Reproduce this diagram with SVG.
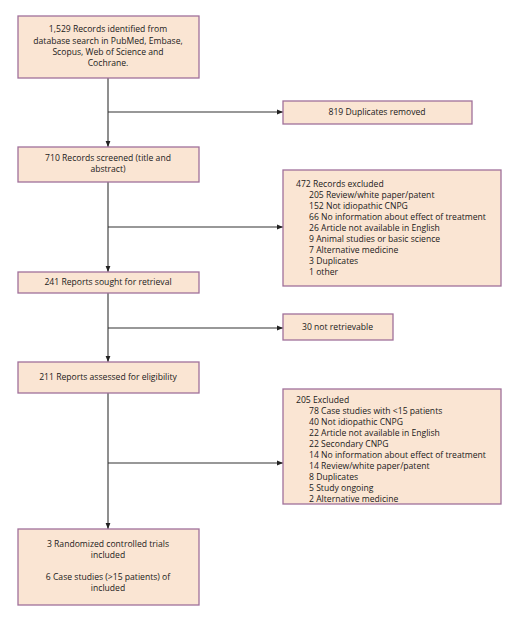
<svg xmlns="http://www.w3.org/2000/svg" width="520" height="622" viewBox="0 0 520 622">
<defs>
<style>
.box{fill:#FAE5D3;stroke:#A0709A;stroke-width:1.3}
.t{font-family:"Open Sans","Noto Sans",sans-serif;font-size:8.6px;fill:#1a1a1a}
.c{text-anchor:middle}
.ln{stroke:#333;stroke-width:1.1;fill:none}
</style>
<marker id="ah" viewBox="0 0 10 10" refX="10" refY="5" markerWidth="6" markerHeight="6" orient="auto" markerUnits="userSpaceOnUse">
<path d="M0,1 L10,5 L0,9 Z" fill="#222"/>
</marker>
</defs>
<rect width="520" height="622" fill="#fff"/>
<g id="connectors">
<line class="ln" x1="108" y1="78" x2="108" y2="147" marker-end="url(#ah)"/>
<line class="ln" x1="108" y1="112" x2="283" y2="112" marker-end="url(#ah)"/>
<line class="ln" x1="108" y1="182" x2="108" y2="272" marker-end="url(#ah)"/>
<line class="ln" x1="108" y1="227" x2="283" y2="227" marker-end="url(#ah)"/>
<line class="ln" x1="108" y1="293" x2="108" y2="362" marker-end="url(#ah)"/>
<line class="ln" x1="108" y1="328" x2="283" y2="328" marker-end="url(#ah)"/>
<line class="ln" x1="108" y1="393" x2="108" y2="529" marker-end="url(#ah)"/>
<line class="ln" x1="108" y1="463" x2="283" y2="463" marker-end="url(#ah)"/>
</g>
<g id="identified">
<rect class="box" x="18" y="16" width="181" height="62"/>
<text class="t c" x="108" y="32">1,529 Records identified from</text>
<text class="t c" x="108" y="44">database search in PubMed, Embase,</text>
<text class="t c" x="108" y="55">Scopus, Web of Science and</text>
<text class="t c" x="108" y="66">Cochrane.</text>
</g>
<g id="duplicates">
<rect class="box" x="283" y="101" width="189" height="23"/>
<text class="t c" x="377" y="115">819 Duplicates removed</text>
</g>
<g id="screened">
<rect class="box" x="18" y="147" width="181" height="35"/>
<text class="t c" x="108" y="161">710 Records screened (title and</text>
<text class="t c" x="108" y="172">abstract)</text>
</g>
<g id="excluded1">
<rect class="box" x="283" y="170" width="218" height="116"/>
<text class="t" x="296" y="187">472 Records excluded</text>
<text class="t" x="309" y="198">205 Review/white paper/patent</text>
<text class="t" x="309" y="209">152 Not idiopathic CNPG</text>
<text class="t" x="309" y="220">66 No information about effect of treatment</text>
<text class="t" x="309" y="231">26 Article not available in English</text>
<text class="t" x="309" y="242">9 Animal studies or basic science</text>
<text class="t" x="309" y="253">7 Alternative medicine</text>
<text class="t" x="309" y="264">3 Duplicates</text>
<text class="t" x="309" y="275">1 other</text>
</g>
<g id="sought">
<rect class="box" x="18" y="272" width="181" height="21"/>
<text class="t c" x="108" y="285">241 Reports sought for retrieval</text>
</g>
<g id="notretrievable">
<rect class="box" x="283" y="314" width="110" height="26"/>
<text class="t" x="302" y="330">30 not retrievable</text>
</g>
<g id="assessed">
<rect class="box" x="18" y="362" width="181" height="31"/>
<text class="t c" x="108" y="380">211 Reports assessed for eligibility</text>
</g>
<g id="excluded2">
<rect class="box" x="283" y="389" width="218" height="115"/>
<text class="t" x="296" y="403">205 Excluded</text>
<text class="t" x="309" y="414">78 Case studies with &lt;15 patients</text>
<text class="t" x="309" y="425">40 Not idiopathic CNPG</text>
<text class="t" x="309" y="436">22 Article not available in English</text>
<text class="t" x="309" y="447">22 Secondary CNPG</text>
<text class="t" x="309" y="458">14 No information about effect of treatment</text>
<text class="t" x="309" y="469">14 Review/white paper/patent</text>
<text class="t" x="309" y="480">8 Duplicates</text>
<text class="t" x="309" y="491">5 Study ongoing</text>
<text class="t" x="309" y="502">2 Alternative medicine</text>
</g>
<g id="included">
<rect class="box" x="18" y="529" width="181" height="76"/>
<text class="t c" x="108" y="547">3 Randomized controlled trials</text>
<text class="t c" x="108" y="558">included</text>
<text class="t c" x="108" y="580">6 Case studies (&gt;15 patients) of</text>
<text class="t c" x="108" y="591">included</text>
</g>
</svg>
